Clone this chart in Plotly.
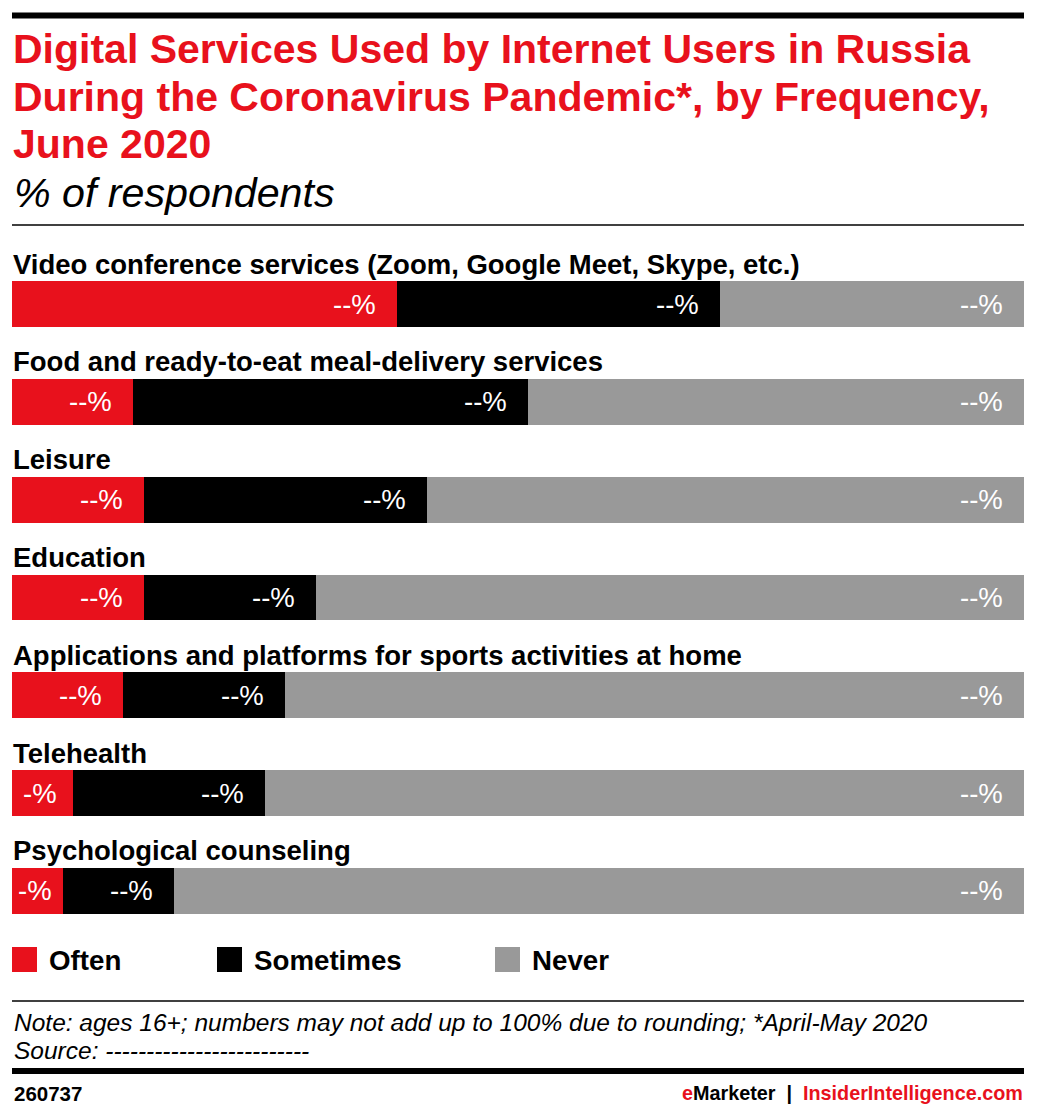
import plotly.graph_objects as go

categories = [
    "Video conference services (Zoom, Google Meet, Skype, etc.)",
    "Food and ready-to-eat meal-delivery services",
    "Leisure",
    "Education",
    "Applications and platforms for sports activities at home",
    "Telehealth",
    "Psychological counseling",
]
series_names = ["Often", "Sometimes", "Never"]
often = [38, 12, 13, 13, 11, 6, 5]
sometimes = [32, 39, 28, 17, 16, 19, 11]
never = [30, 49, 59, 70, 73, 75, 84]
often_labels = ["--%", "--%", "--%", "--%", "--%", "-%", "-%"]
sometimes_labels = ["--%"] * 7
never_labels = ["--%"] * 7

colors = ["#e8111c", "#000000", "#999999"]

W, H = 1038, 1117
FONT = "Liberation Sans"
PLOT_W = 1012


def py(p):
    return 1 - p / H


def px(p):
    return p / W


fig = go.Figure()
y_idx = list(range(len(categories)))
for name, vals, col in zip(series_names, [often, sometimes, never], colors):
    fig.add_trace(go.Bar(
        y=y_idx, x=vals, name=name, orientation="h",
        marker=dict(color=col, line=dict(width=0)), width=0.47,
        showlegend=False, hoverinfo="x+name",
    ))

top_center, step = 304, 97.83
dom_top, dom_bot = 255, 940
r_top = -(top_center - dom_top) / step
r_bot = (len(categories) - 1) + (dom_bot - (top_center + step * (len(categories) - 1))) / step

ann = []
for vals_list, labels, offset in [
    (often, often_labels, [0] * 7),
    (sometimes, sometimes_labels, often),
    (never, never_labels, [a + b for a, b in zip(often, sometimes)]),
]:
    for i, (v, lab, off) in enumerate(zip(vals_list, labels, offset)):
        bar_px = v / 100 * PLOT_W
        lab_w = 12 * lab.count("-") + 22
        shift = min(19, max(2, (bar_px - lab_w) / 2))
        ann.append(dict(x=off + v, y=i, xref="x", yref="y", text=lab, showarrow=False,
                        xanchor="right", xshift=-shift,
                        font=dict(family=FONT, size=27.5, color="white")))
for i, c in enumerate(categories):
    ann.append(dict(x=0, y=i, xref="x", yref="y", text=f"<b>{c}</b>", showarrow=False,
                    xanchor="left", yanchor="middle", yshift=40, xshift=-1,
                    font=dict(family=FONT, size=27.5, color="black")))

title_lines = ["Digital Services Used by Internet Users in Russia",
               "During the Coronavirus Pandemic*, by Frequency,",
               "June 2020"]
for k, line in enumerate(title_lines):
    ann.append(dict(x=px(11), y=py(49 + 47.5 * k), xref="paper", yref="paper", text=f"<b>{line}</b>",
                    showarrow=False, xanchor="left", yanchor="middle",
                    font=dict(family=FONT, size=41, color="#e8111c")))
ann.append(dict(x=px(12), y=py(193), xref="paper", yref="paper", text="<i>% of respondents</i>",
                showarrow=False, xanchor="left", yanchor="middle",
                font=dict(family=FONT, size=41.2, color="black")))

leg_x = [12, 217, 495]
shapes = []
for name, col, lx in zip(series_names, colors, leg_x):
    shapes.append(dict(type="rect", xref="paper", yref="paper", x0=px(lx), x1=px(lx + 25),
                       y0=py(972), y1=py(947), fillcolor=col, line=dict(width=0)))
    ann.append(dict(x=px(lx + 35), y=py(960), xref="paper", yref="paper", text=f"<b>{name}</b>",
                    showarrow=False, xanchor="left", yanchor="middle",
                    font=dict(family=FONT, size=27.7, color="black")))

notes = ["Note: ages 16+; numbers may not add up to 100% due to rounding; *April-May 2020",
         "Source: -------------------------"]
for k, t in enumerate(notes):
    ann.append(dict(x=px(12), y=py(1022 + 28 * k), xref="paper", yref="paper",
                    text=f"<i>{t}</i>",
                    showarrow=False, xanchor="left", yanchor="middle",
                    font=dict(family=FONT, size=24.5, color="black")))
ann.append(dict(x=px(12), y=py(1093), xref="paper", yref="paper", text="<b>260737</b>",
                showarrow=False, xanchor="left", yanchor="middle",
                font=dict(family=FONT, size=20.5, color="black")))
ann.append(dict(x=px(1025), y=py(1093), xref="paper", yref="paper",
                text="<b><span style='color:#e8111c'>e</span>Marketer  |  <span style='color:#e8111c'>InsiderIntelligence.com</span></b>",
                showarrow=False, xanchor="right", yanchor="middle",
                font=dict(family=FONT, size=19.8, color="black")))

shapes += [
    dict(type="line", xref="paper", yref="paper", x0=px(12), x1=px(1024), y0=py(15.5), y1=py(15.5),
         line=dict(color="black", width=6)),
    dict(type="line", xref="paper", yref="paper", x0=px(12), x1=px(1024), y0=py(225), y1=py(225),
         line=dict(color="black", width=1.5)),
    dict(type="line", xref="paper", yref="paper", x0=px(12), x1=px(1024), y0=py(1001), y1=py(1001),
         line=dict(color="black", width=1.5)),
    dict(type="line", xref="paper", yref="paper", x0=px(12), x1=px(1024), y0=py(1071), y1=py(1071),
         line=dict(color="black", width=6)),
]

fig.update_layout(
    width=W, height=H, margin=dict(l=0, r=0, t=0, b=0),
    paper_bgcolor="white", plot_bgcolor="white",
    barmode="stack", bargap=0,
    xaxis=dict(domain=[px(12), px(1024)], range=[0, 100], visible=False, fixedrange=True),
    yaxis=dict(domain=[py(dom_bot), py(dom_top)], range=[r_bot, r_top], visible=False, fixedrange=True),
    annotations=ann, shapes=shapes, showlegend=False,
    font=dict(family=FONT),
)

fig.write_html("out.html")
